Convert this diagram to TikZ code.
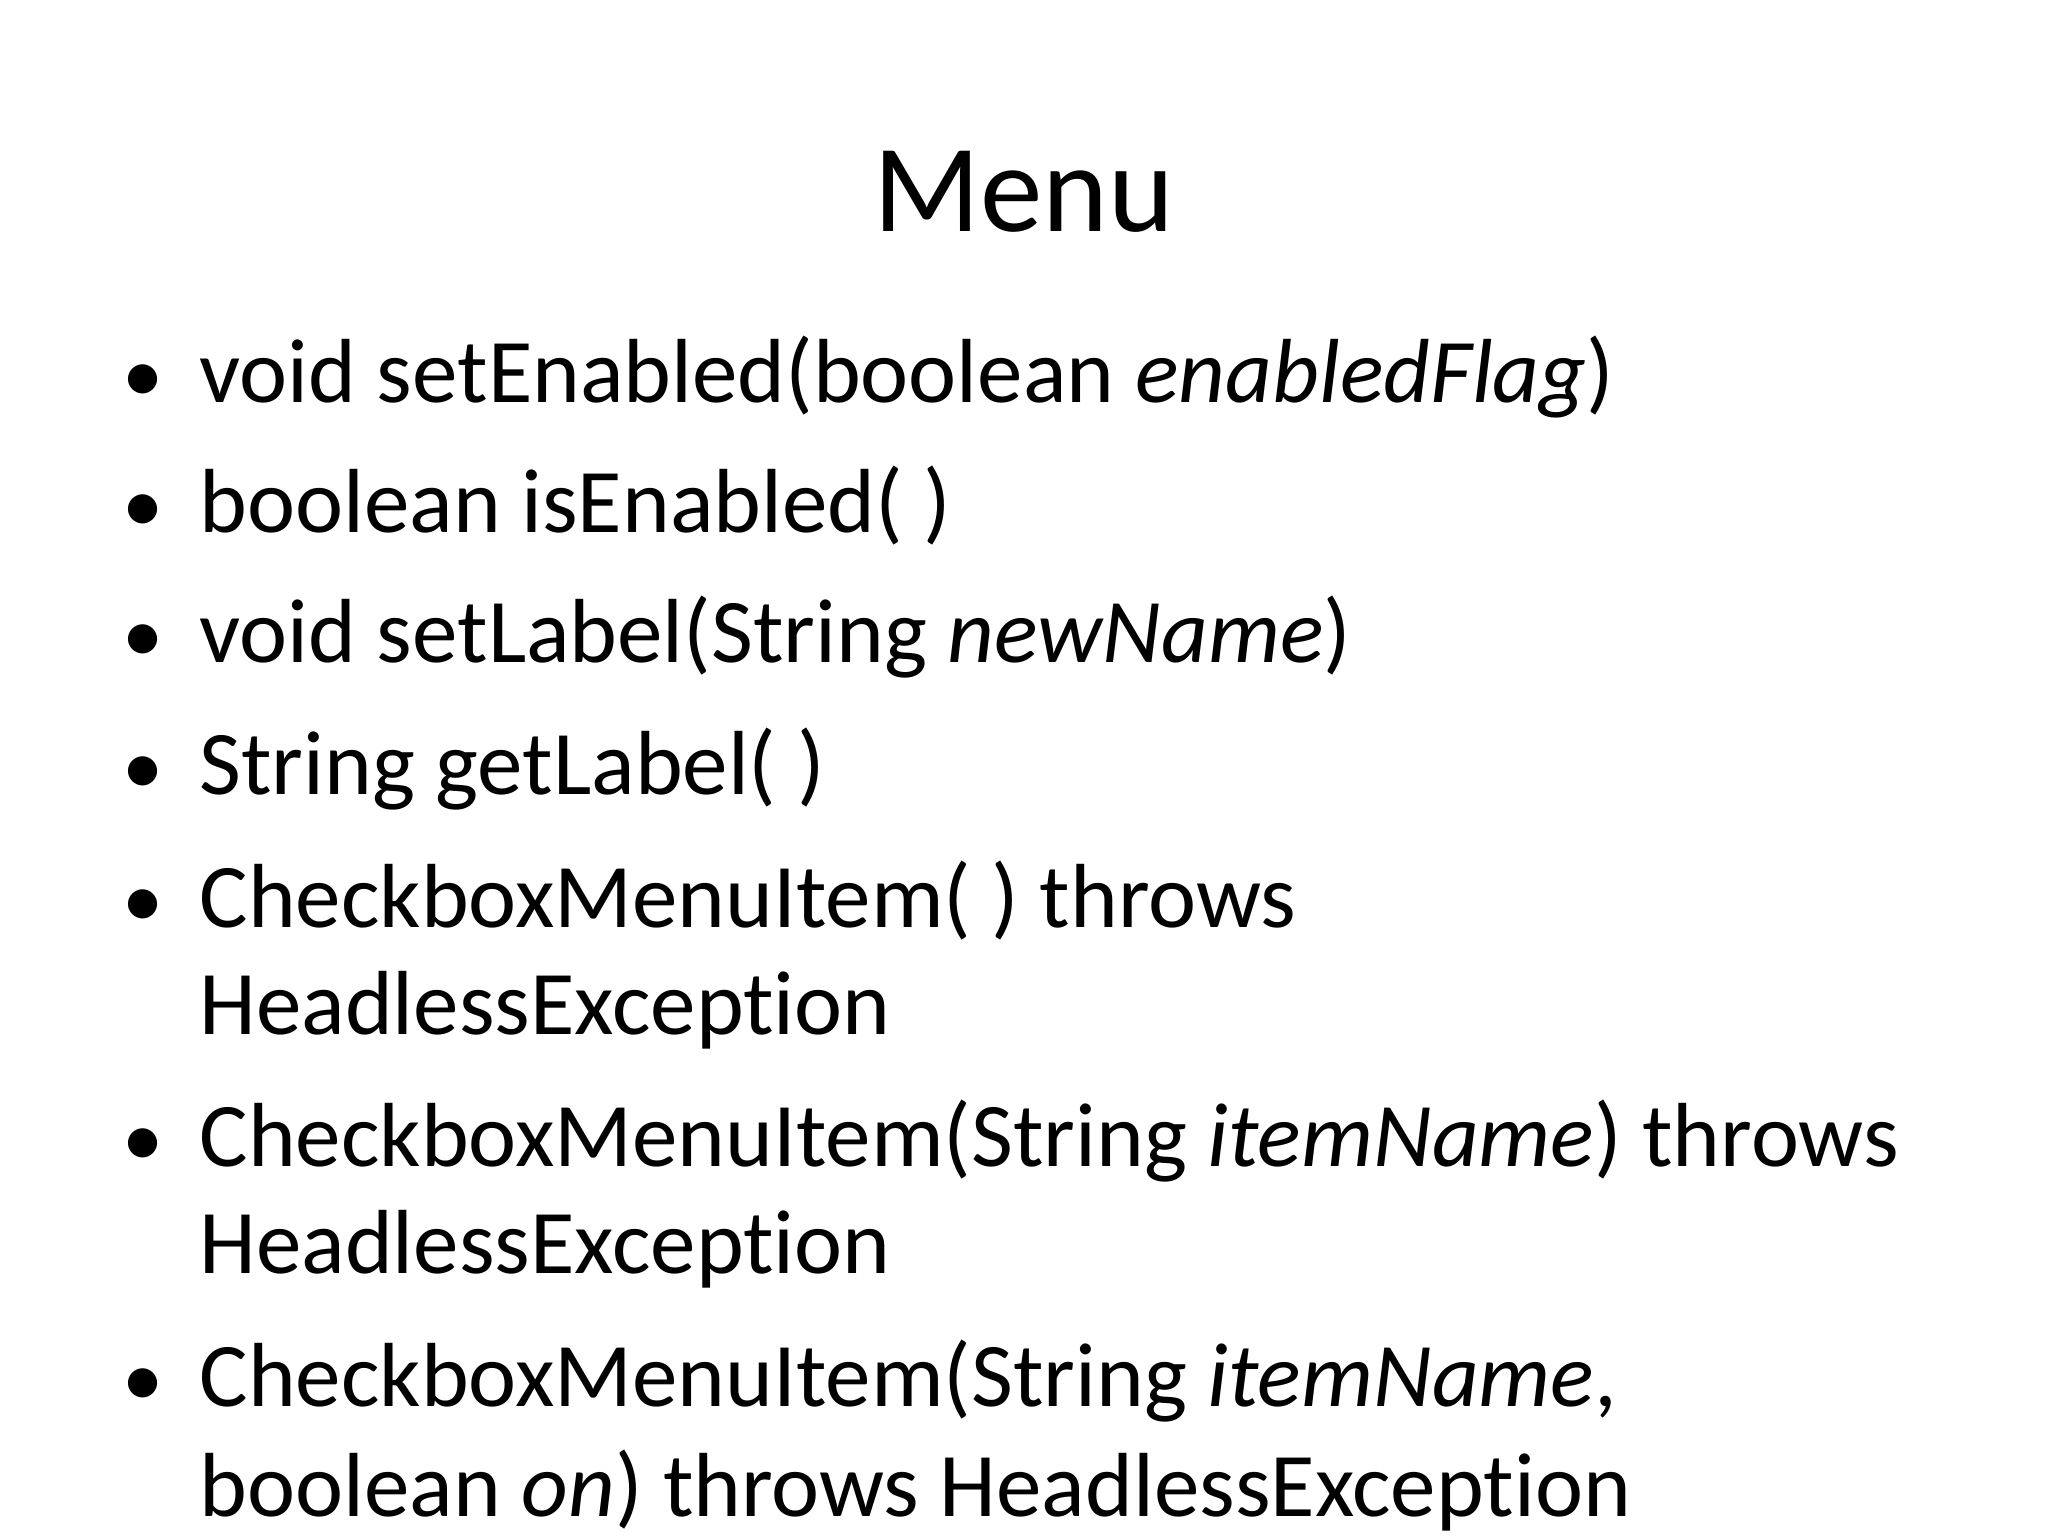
\documentclass[tikz,border=0pt]{standalone}
\usepackage{fontspec}
\setmainfont{Carlito}[Ligatures={NoCommon},RawFeature={-liga;-clig;-dlig}]
\begin{document}
\begin{tikzpicture}[x=0.3515625pt,y=-0.3515625pt,
  title/.style={inner sep=0pt,anchor=base,font=\fontsize{44}{52}\selectfont},
  bodytext/.style={inner sep=0pt,anchor=base west,font=\fontsize{32}{38}\selectfont},
  bul/.style={inner sep=0pt,anchor=base west,font=\fontsize{29}{35}\selectfont}]
\useasboundingbox (0,0) rectangle (2048,1536);
\node[title] (t) at (1024,232) {Menu};
\foreach \y [count=\i] in {403,533,663,794,927,1166,1406}{
  \node[bul] (b\i) at (122,\y) {•};
}
\node[bodytext] (l1) at (199,403) {void setEnabled(boolean \textit{enabledFlag})};
\node[bodytext] (l2) at (199,533) {boolean isEnabled( )};
\node[bodytext] (l3) at (199,663) {void setLabel(String \textit{newName})};
\node[bodytext] (l4) at (199,794) {String getLabel( )};
\node[bodytext] (l5) at (199,927) {CheckboxMenuItem( ) throws};
\node[bodytext] (l5b) at (199,1034) {HeadlessException};
\node[bodytext] (l6) at (199,1166) {CheckboxMenuItem(String \textit{itemName}) throws};
\node[bodytext] (l6b) at (199,1273) {HeadlessException};
\node[bodytext] (l7) at (199,1406) {CheckboxMenuItem(String \textit{itemName},};
\node[bodytext] (l7b) at (199,1516) {boolean \textit{on}) throws HeadlessException};
\end{tikzpicture}
\end{document}
